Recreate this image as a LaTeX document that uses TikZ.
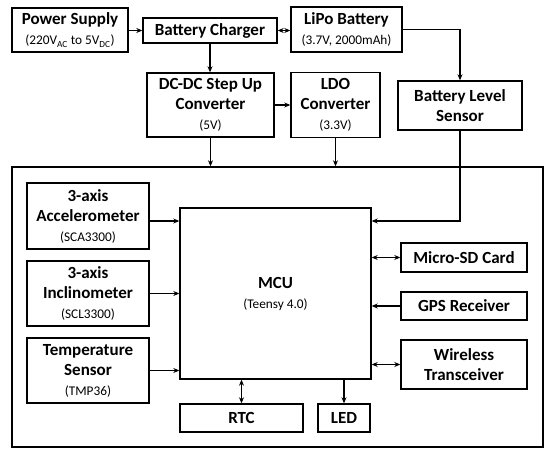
\documentclass[tikz,border=0pt]{standalone}
\usepackage{fontspec}
\setmainfont{Carlito}
\usetikzlibrary{arrows.meta}
\newcommand{\subtxt}[1]{{\normalfont\fontsize{13.3}{15.5}\selectfont #1}}
\tikzset{
	blk/.style={draw, line width=1.4pt, align=center, inner sep=0pt,
		font=\fontsize{17}{20}\selectfont\bfseries},
	conn/.style={line width=1.2pt, -{Stealth[length=6pt,width=5pt]}},
	bconn/.style={line width=1.2pt, {Stealth[length=6pt,width=5pt]}-{Stealth[length=6pt,width=5pt]}}
}
\begin{document}
\begin{tikzpicture}[x=1pt, y=-1pt]
	\useasboundingbox (0,0) rectangle (550,454);
	%power path
	\node[blk, minimum width=116pt, minimum height=44pt] (ps) at (70,30)
		{Power Supply\\\subtxt{(220V\textsubscript{AC} to 5V\textsubscript{DC})}};
	\node[blk, minimum width=134pt, minimum height=25pt] (bc) at (210,30.5) {Battery Charger};
	\node[blk, minimum width=111pt, minimum height=45pt] (lipo) at (346.5,29.5)
		{LiPo Battery\\\subtxt{(3.7V, 2000mAh)}};
	\node[blk, minimum width=127pt, minimum height=64pt] (dcdc) at (210.5,105)
		{DC-DC Step Up\\Converter\\\subtxt{(5V)}};
	\node[blk, minimum width=89pt, minimum height=65pt] (ldo) at (335.5,105)
		{LDO\\Converter\\\subtxt{(3.3V)}};
	\node[blk, minimum width=124pt, minimum height=49pt] (bls) at (460,105.5)
		{Battery Level\\Sensor};
	%system box
	\node[draw, line width=1.4pt, minimum width=531pt, minimum height=280pt] (sys) at (277.5,307) {};
	\node[blk, minimum width=191pt, minimum height=171pt] (mcu) at (275.5,293.5)
		{MCU\\\subtxt{(Teensy 4.0)}};
	%sensors
	\node[blk, minimum width=122pt, minimum height=66pt] (acc) at (88,216)
		{3-axis\\Accelerometer\\\subtxt{(SCA3300)}};
	\node[blk, minimum width=122pt, minimum height=65pt] (inc) at (88,293.5)
		{3-axis\\Inclinometer\\\subtxt{(SCL3300)}};
	\node[blk, minimum width=122pt, minimum height=65pt] (temp) at (88,370.5)
		{Temperature\\Sensor\\\subtxt{(TMP36)}};
	%peripherals
	\node[blk, minimum width=126pt, minimum height=29pt] (sd) at (464,257.5) {Micro-SD Card};
	\node[blk, minimum width=126pt, minimum height=28pt] (gps) at (464,306) {GPS Receiver};
	\node[blk, minimum width=126pt, minimum height=49pt] (wl) at (464,364.5)
		{Wireless\\Transceiver};
	\node[blk, minimum width=123pt, minimum height=28pt] (rtc) at (241.5,418) {RTC};
	\node[blk, minimum width=52pt, minimum height=28pt] (led) at (344,418) {LED};
	%connections
	\coordinate (accin) at ([yshift=-5pt]acc.east);
	\draw[conn] (ps.east |- bc.west) -- (bc.west);
	\draw[bconn] (bc.east) -- (bc.east -| lipo.west);
	\draw[conn] (bc.south) -- (bc.south |- dcdc.north);
	\draw[conn] (dcdc.east) -- (ldo.west);
	\draw[conn] (lipo.east) -| (bls.north);
	\draw[conn] (dcdc.south) -- (dcdc.south |- sys.north);
	\draw[conn] (ldo.south) -- (ldo.south |- sys.north);
	\draw[conn] (bls.south) |- (mcu.east |- accin);
	\draw[conn] (accin) -- (accin -| mcu.west);
	\draw[conn] (inc.east) -- (inc.east -| mcu.west);
	\draw[conn] (temp.east) -- (temp.east -| mcu.west);
	\draw[bconn] (sd.west -| mcu.east) -- (sd.west);
	\draw[conn] (gps.west) -- (gps.west -| mcu.east);
	\draw[bconn] (wl.west -| mcu.east) -- (wl.west);
	\draw[bconn] (rtc.north |- mcu.south) -- (rtc.north);
	\draw[conn] (led.north |- mcu.south) -- (led.north);
\end{tikzpicture}
\end{document}
